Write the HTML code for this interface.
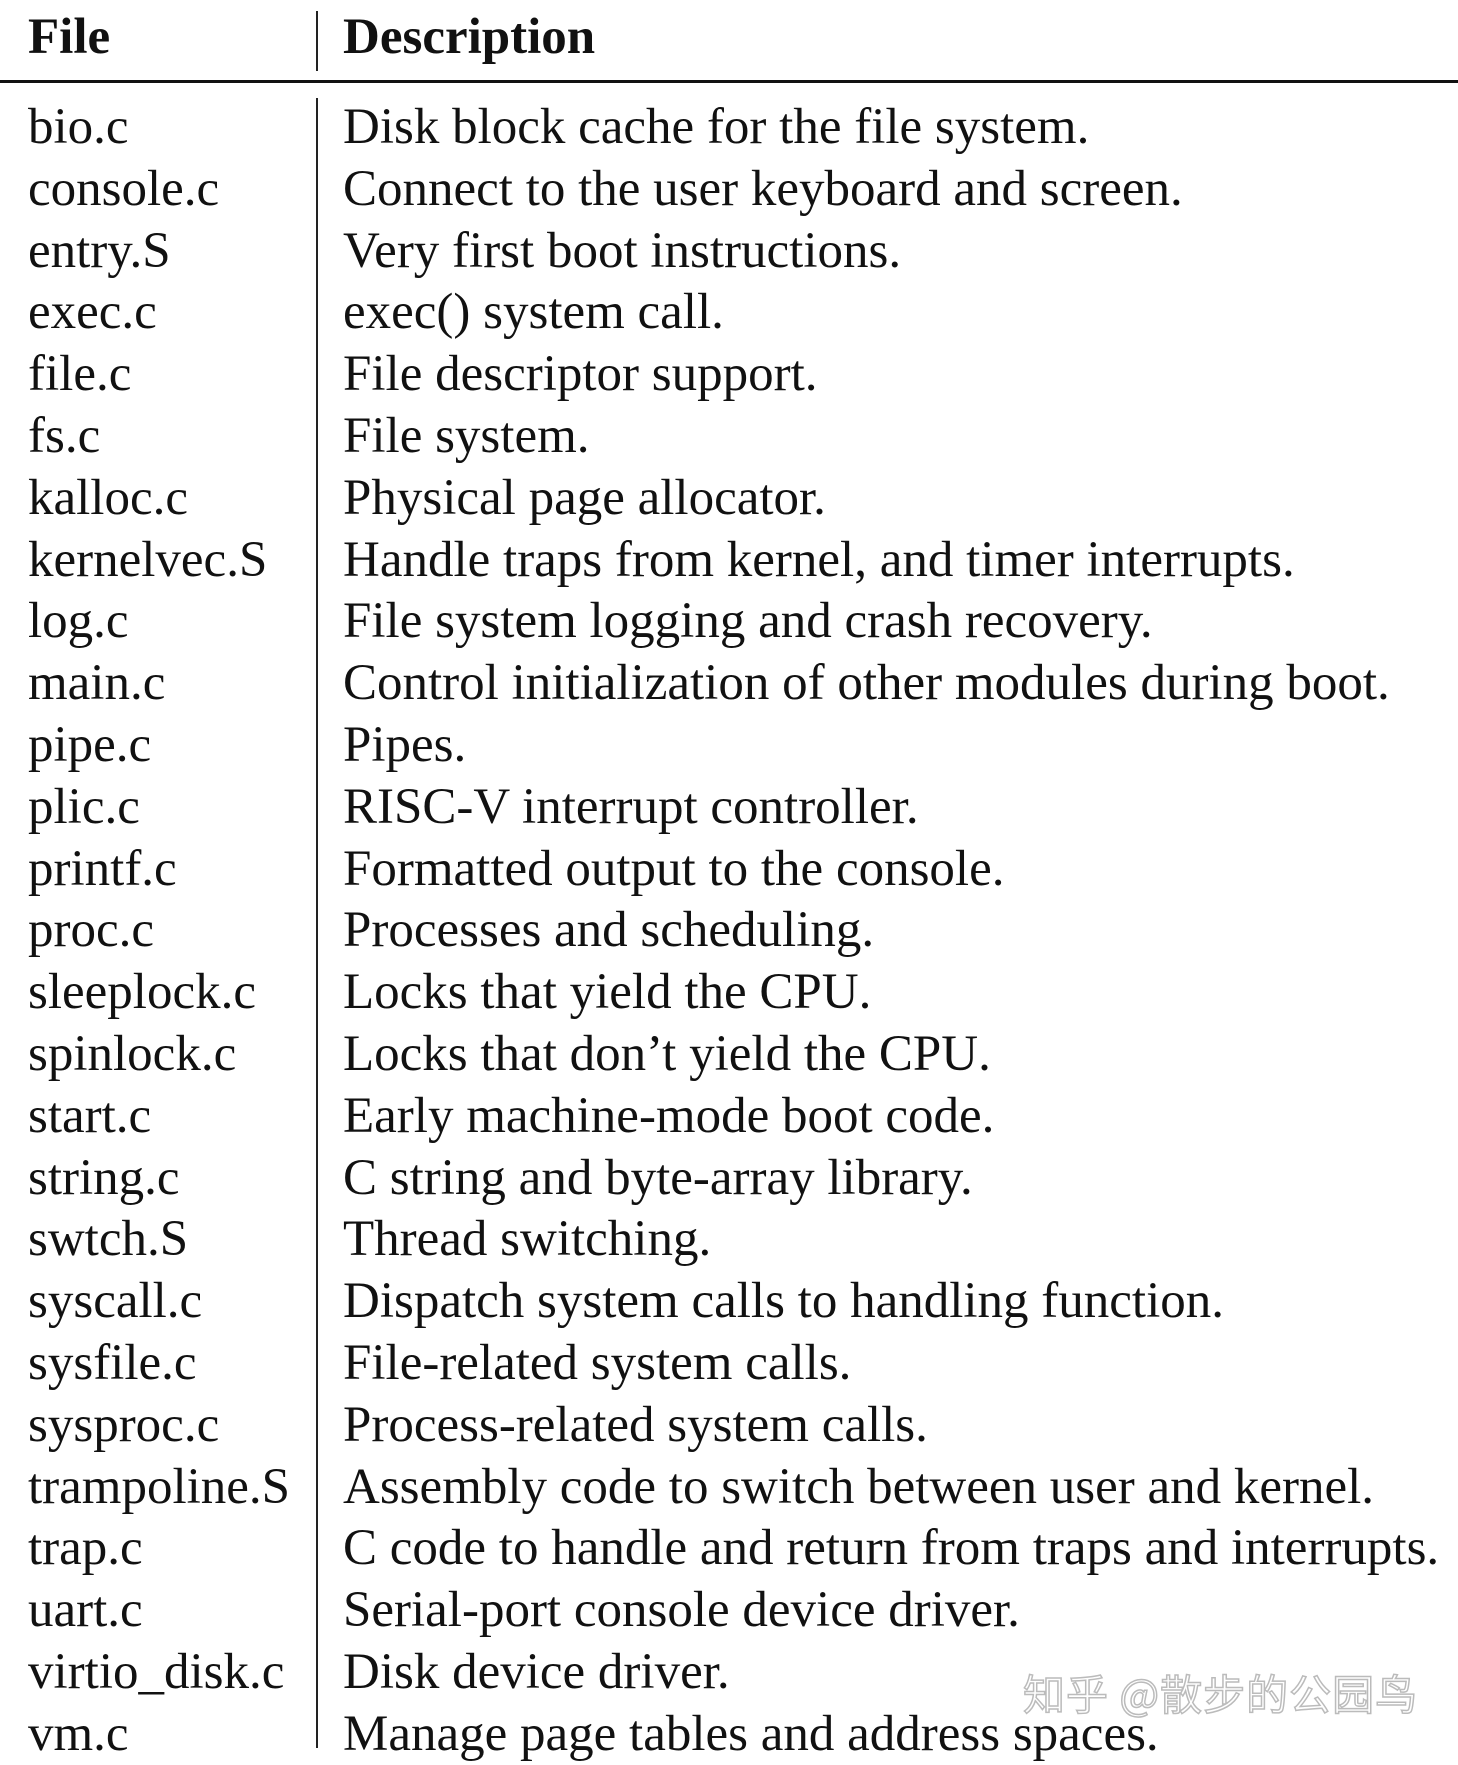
<!DOCTYPE html>
<html><head><meta charset="utf-8"><style>
html,body{margin:0;padding:0;background:#fff;}
body{width:1458px;height:1748px;position:relative;overflow:hidden;font-family:"Liberation Serif",serif;color:#111;}
.r{position:absolute;left:0;height:61.56px;line-height:61.56px;font-size:51px;white-space:nowrap;}
.f{position:absolute;left:28px;}
.d{position:absolute;left:343px;}
.hd{position:absolute;top:7px;font-size:51px;font-weight:bold;line-height:60px;white-space:nowrap;}
.rule{position:absolute;left:0;top:80px;width:1458px;height:3px;background:#111;}
.v1{position:absolute;left:316px;top:11px;width:1.5px;height:60px;background:#222;}
.v2{position:absolute;left:316px;top:98px;width:1.5px;height:1650px;background:#222;}
.wm{position:absolute;left:1023px;top:1662px;font-family:"Noto Sans CJK SC",sans-serif;font-size:42px;color:#fff;-webkit-text-stroke:1.5px #bbb;letter-spacing:1px;white-space:nowrap;}
</style></head><body>
<div class="hd" style="left:28px">File</div>
<div class="hd" style="left:343px">Description</div>
<div class="rule"></div>
<div class="v1"></div><div class="v2"></div>
<div class="r" style="top:97px"><span class="f">bio.c</span><span class="d">Disk block cache for the file system.</span></div>
<div class="r" style="top:158.8px"><span class="f">console.c</span><span class="d">Connect to the user keyboard and screen.</span></div>
<div class="r" style="top:220.6px"><span class="f">entry.S</span><span class="d">Very first boot instructions.</span></div>
<div class="r" style="top:282.4px"><span class="f">exec.c</span><span class="d">exec() system call.</span></div>
<div class="r" style="top:344.2px"><span class="f">file.c</span><span class="d">File descriptor support.</span></div>
<div class="r" style="top:406px"><span class="f">fs.c</span><span class="d">File system.</span></div>
<div class="r" style="top:467.8px"><span class="f">kalloc.c</span><span class="d">Physical page allocator.</span></div>
<div class="r" style="top:529.6px"><span class="f">kernelvec.S</span><span class="d">Handle traps from kernel, and timer interrupts.</span></div>
<div class="r" style="top:591.4px"><span class="f">log.c</span><span class="d">File system logging and crash recovery.</span></div>
<div class="r" style="top:653.2px"><span class="f">main.c</span><span class="d">Control initialization of other modules during boot.</span></div>
<div class="r" style="top:715px"><span class="f">pipe.c</span><span class="d">Pipes.</span></div>
<div class="r" style="top:776.8px"><span class="f">plic.c</span><span class="d">RISC-V interrupt controller.</span></div>
<div class="r" style="top:838.6px"><span class="f">printf.c</span><span class="d">Formatted output to the console.</span></div>
<div class="r" style="top:900.4px"><span class="f">proc.c</span><span class="d">Processes and scheduling.</span></div>
<div class="r" style="top:962.2px"><span class="f">sleeplock.c</span><span class="d">Locks that yield the CPU.</span></div>
<div class="r" style="top:1024px"><span class="f">spinlock.c</span><span class="d">Locks that don’t yield the CPU.</span></div>
<div class="r" style="top:1085.8px"><span class="f">start.c</span><span class="d">Early machine-mode boot code.</span></div>
<div class="r" style="top:1147.6px"><span class="f">string.c</span><span class="d">C string and byte-array library.</span></div>
<div class="r" style="top:1209.4px"><span class="f">swtch.S</span><span class="d">Thread switching.</span></div>
<div class="r" style="top:1271.2px"><span class="f">syscall.c</span><span class="d">Dispatch system calls to handling function.</span></div>
<div class="r" style="top:1333px"><span class="f">sysfile.c</span><span class="d">File-related system calls.</span></div>
<div class="r" style="top:1394.8px"><span class="f">sysproc.c</span><span class="d">Process-related system calls.</span></div>
<div class="r" style="top:1456.6px"><span class="f">trampoline.S</span><span class="d">Assembly code to switch between user and kernel.</span></div>
<div class="r" style="top:1518.4px"><span class="f">trap.c</span><span class="d">C code to handle and return from traps and interrupts.</span></div>
<div class="r" style="top:1580.2px"><span class="f">uart.c</span><span class="d">Serial-port console device driver.</span></div>
<div class="r" style="top:1642px"><span class="f">virtio_disk.c</span><span class="d">Disk device driver.</span></div>
<div class="r" style="top:1703.8px"><span class="f">vm.c</span><span class="d">Manage page tables and address spaces.</span></div>
<div class="wm">知乎 @散步的公园鸟</div>
</body></html>
